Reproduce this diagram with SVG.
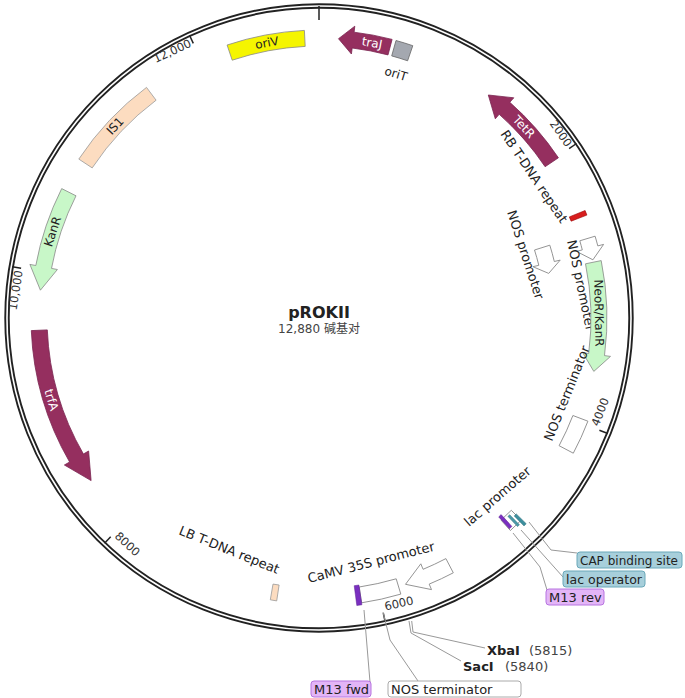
<svg xmlns="http://www.w3.org/2000/svg" width="685" height="698" viewBox="0 0 685 698">
<style>
text{font-family:"DejaVu Sans","Liberation Sans",sans-serif;font-size:13px;fill:#222}
.t{font-size:11.5px;fill:#333}
.f{font-size:12px}
.w{fill:#fff;font-size:12px}
.mag{fill:#952f5f;stroke:#7a2550;stroke-width:0.8}
.grn{fill:#c8f7c8;stroke:#888;stroke-width:0.8}
.pch{fill:#fcdcc0;stroke:#999;stroke-width:0.8}
.wht{fill:#fff;stroke:#888;stroke-width:0.9}
.lead{fill:none;stroke:#999;stroke-width:1}
.tick{stroke:#222;stroke-width:1.5}
.lbl{font-size:13px;fill:#222}
</style>
<rect width="685" height="698" fill="#fff"/>
<g id="backbone">
<circle cx="319" cy="318" r="312" fill="none" stroke="#222" stroke-width="5.4"/>
<circle cx="319" cy="318" r="312" fill="none" stroke="#fff" stroke-width="1.6"/>
<line class="tick" x1="319" y1="6" x2="319" y2="20"/>
<line class="tick" x1="576.5" y1="143.5" x2="569.1" y2="148.6"/>
<line class="tick" x1="607.8" y1="433.5" x2="599.4" y2="430.2"/>
<line class="tick" x1="385.2" y1="621.8" x2="383.3" y2="613.1"/>
<line class="tick" x1="104.5" y1="543.2" x2="110.7" y2="536.7"/>
<line class="tick" x1="12.3" y1="266.7" x2="21.1" y2="268.2"/>
<line class="tick" x1="189.5" y1="35.2" x2="193.3" y2="43.4"/>
<text class="t" text-anchor="end" transform="rotate(55.4 565.9 147.7)" x="565.9" y="147.7">2000</text>
<text class="t" text-anchor="end" transform="rotate(-25 192.2 46.1)" x="192.2" y="46.1">12,000</text>
<text class="t" text-anchor="end" transform="rotate(-81 22.7 271.1)" x="22.7" y="271.1">10,000</text>
<text class="t" transform="rotate(-68.7 598.5 427)" x="598.5" y="427">4000</text>
<text class="t" transform="rotate(-12.8 385.5 610.5)" x="385.5" y="610.5">6000</text>
<text class="t" transform="rotate(43.1 114 537.1)" x="114" y="537.1">8000</text>
</g>
<g id="title">
<text x="319" y="318" text-anchor="middle" style="font-size:16px;font-weight:bold">pROKII</text>
<text x="319" y="333" text-anchor="middle" style="font-size:12px;fill:#444;font-family:'DejaVu Sans','Noto Sans CJK SC',sans-serif">12,880 碱基对</text>
</g>
<g id="connectors">
<polyline class="lead" points="529,522 551,550 577,553"/>
<polyline class="lead" points="521,530 563,577"/>
<polyline class="lead" points="513,533 540,567 547,590"/>
<polyline class="lead" points="364,610 370,682"/>
<polyline class="lead" points="383,612 390,640 418,681"/>
<polyline class="lead" points="411.7,621 413,632 485,648"/>
<polyline class="lead" points="409,621 411,633 461,661"/>
</g>
<g id="oriV"><path fill="#f5f500" stroke="#888" stroke-width="0.8" d="M227.1,45 A288,288 0 0 1 304.4,30.4 L305.2,46.4 A272,272 0 0 0 232.2,60.2 Z"/>
<text class="f" text-anchor="middle" dominant-baseline="central" transform="rotate(-10.7 267 42.9)" x="267" y="42.9">oriV</text></g>
<g id="traJ"><path class="mag" d="M354.8,26.2 L354.1,32.2 A288 288 0 0 1 392.1,39.4 L388,54.9 A272 272 0 0 0 352.2,48 L351.4,54 L338.5,38.7 Z"/>
<text class="w" text-anchor="middle" dominant-baseline="central" transform="rotate(10.5 372 43)" x="372" y="43">traJ</text></g>
<g id="oriT"><path fill="#a4a8b0" stroke="#666" stroke-width="0.8" d="M396,40.5 A288 288 0 0 1 412.8,45.7 L407.6,60.8 A272 272 0 0 0 391.7,55.9 Z"/>
<text class="f" text-anchor="middle" dominant-baseline="central" transform="rotate(17 396 74)" x="396" y="74">oriT</text></g>
<g id="TetR"><path class="mag" d="M513.8,97.8 L509.8,102.3 A288 288 0 0 1 558.4,157.8 L545.1,166.7 A272 272 0 0 0 499.2,114.3 L495.3,118.8 L488.3,95 Z"/>
<text class="w" text-anchor="middle" dominant-baseline="central" transform="rotate(47 523.8 127)" x="523.8" y="127">TetR</text></g>
<g id="RB"><polygon fill="#d81e1e" stroke="#900" stroke-width="0.6" points="585.1,210.5 586.9,215.1 571.1,221.2 569.3,216.9"/>
<text transform="rotate(56 500 134)" x="500" y="134">RB T-DNA repeat</text></g>
<g id="NOSpro1"><path class="wht" d="M595.1,236.2 A288 288 0 0 1 597.8,245.9 L603.6,244.4 L592.9,259.8 L576.5,251.4 L582.3,249.9 A272 272 0 0 0 579.8,240.8 Z"/>
<text transform="rotate(78 567 241)" x="567" y="241">NOS promoter</text></g>
<g id="NOSpro2"><path class="wht" d="M549.8,245.2 A242 242 0 0 1 554.3,261.5 L560.2,260.1 L548.7,273.4 L532.9,266.7 L538.8,265.3 A226 226 0 0 0 534.5,250 Z"/>
<text transform="rotate(72 507 212)" x="507" y="212">NOS promoter</text></g>
<g id="NeoR"><path class="grn" d="M601.2,260.6 A288 288 0 0 1 604.5,355.6 L610.5,356.4 L593.8,371.4 L582.7,352.7 L588.7,353.5 A272 272 0 0 0 585.5,263.8 Z"/>
<text class="f" text-anchor="middle" dominant-baseline="central" transform="rotate(89 598.9 313)" x="598.9" y="313">NeoR/KanR</text></g>
<g id="NOSterm1"><path class="wht" d="M587.9,421.2 A288 288 0 0 1 573.3,453.2 L559.1,445.7 A272 272 0 0 0 572.9,415.5 Z"/>
<text transform="rotate(-68 552 442)" x="552" y="442">NOS terminator</text></g>
<g id="lac">
<polygon class="wht" points="521.2,520.2 510.4,530.5 501,520.1 511.3,510.3"/>
<polygon fill="#3d8f9e" stroke="#2b6b77" stroke-width="0.5" points="526.2,523.7 524,525.9 514.2,515.9 516.3,513.9"/>
<polygon fill="#4c9aa8" stroke="#2b6b77" stroke-width="0.5" points="519.4,524.8 517.6,526.6 507.9,516.4 509.7,514.8"/>
<polygon fill="#7a2fc0" stroke="#5a1f90" stroke-width="0.5" points="511.9,526.4 509.4,528.7 498.7,516.9 501.1,514.6"/>
<text transform="rotate(-41 469 527)" x="469" y="527">lac promoter</text>
</g>
<g id="CAP"><rect x="577" y="552" width="105" height="16" rx="3" fill="#a7cfdb" stroke="#6aa8b9"/><text x="580" y="564.5" class="lbl" textLength="98" lengthAdjust="spacingAndGlyphs">CAP binding site</text></g>
<g id="lacop"><rect x="563" y="571" width="82" height="16" rx="3" fill="#a7cfdb" stroke="#6aa8b9"/><text x="566" y="583.5" class="lbl" textLength="76" lengthAdjust="spacingAndGlyphs">lac operator</text></g>
<g id="M13rev"><rect x="546" y="589" width="58" height="16" rx="3" fill="#e3b5f7" stroke="#b774e0"/><text x="549" y="601.5" class="lbl">M13 rev</text></g>
<g id="CaMV"><path class="wht" d="M453.3,572.8 A288 288 0 0 1 429.2,584.1 L431.5,589.6 L405.5,584.3 L420.8,563.8 L423.1,569.3 A272 272 0 0 0 445.9,558.6 Z"/>
<text transform="rotate(-14.5 309 583)" x="309" y="583">CaMV 35S promoter</text></g>
<g id="NOSterm2"><path class="wht" d="M400.8,594.1 A288 288 0 0 1 361.6,602.8 L359.2,587 A272 272 0 0 0 396.2,578.8 Z"/></g>
<g id="M13fwd"><polygon fill="#7a2fc0" stroke="#5a1f90" stroke-width="0.5" points="361.9,604.8 356.8,605.5 354.2,585.7 358.9,585"/>
<rect x="311" y="681" width="60" height="16" rx="3" fill="#e3b5f7" stroke="#b774e0"/><text x="314" y="693.5" class="lbl">M13 fwd</text></g>
<g id="NOSlabel"><rect x="388" y="681" width="133" height="16" rx="3" fill="#fff" stroke="#aaa"/><text x="391" y="693.5" class="lbl">NOS terminator</text></g>
<g id="XbaI"><text x="487" y="655" class="lbl"><tspan font-weight="bold">XbaI</tspan><tspan x="529" fill="#444">(5815)</tspan></text></g>
<g id="SacI"><text x="463" y="671" class="lbl"><tspan font-weight="bold">SacI</tspan><tspan x="505" fill="#444">(5840)</tspan></text></g>
<g id="LB"><polygon class="pch" points="276.7,600.9 270.3,599.8 273,584.1 279.1,585"/>
<text transform="rotate(22 178 534)" x="178" y="534">LB T-DNA repeat</text></g>
<g id="trfA"><path class="mag" d="M64.4,465 L69.6,462 A288 288 0 0 1 31.3,330.6 L47.3,329.9 A272 272 0 0 0 83.4,454 L88.6,451 L91.1,480.6 Z"/>
<text class="w" text-anchor="middle" dominant-baseline="central" transform="rotate(73 51.2 400)" x="51.2" y="400">trfA</text></g>
<g id="KanR"><path class="grn" d="M29.9,264.4 L35.8,265.5 A288 288 0 0 1 61.7,188.6 L76,195.8 A272 272 0 0 0 51.5,268.4 L57.4,269.5 L40.4,290.2 Z"/>
<text class="f" text-anchor="middle" dominant-baseline="central" transform="rotate(-72 52.7 231.5)" x="52.7" y="231.5">KanR</text></g>
<g id="IS1"><path class="pch" d="M78.8,159.1 A288 288 0 0 1 146.5,87.4 L156.1,100.2 A272 272 0 0 0 92.2,167.9 Z"/>
<text class="f" text-anchor="middle" dominant-baseline="central" transform="rotate(-46.7 115.2 126)" x="115.2" y="126">IS1</text></g>
</svg>
